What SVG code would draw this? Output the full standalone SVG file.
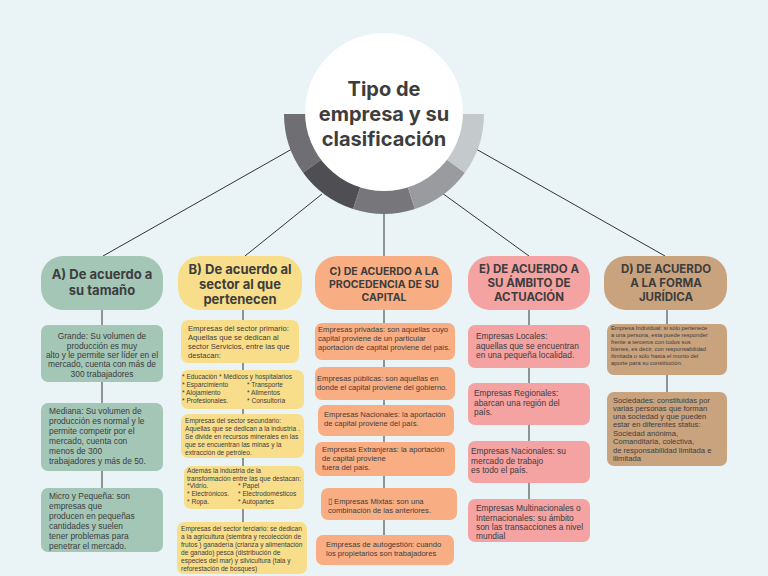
<svg xmlns="http://www.w3.org/2000/svg" width="768" height="576" viewBox="0 0 768 576">
<style>
text{font-family:"Liberation Sans",Arial,sans-serif;fill:#3d3d3d}
.h{font-family:Inter,"Liberation Sans",sans-serif;font-weight:bold;font-size:13px;text-anchor:middle}
.s{font-size:8.4px}
.xs{font-size:6.6px}
.m{font-size:7.6px}
.cn line{stroke:#333;stroke-width:1}
.g{fill:#a3c6b6}.y{fill:#f8de8a}.o{fill:#f9ad82}.p{fill:#f4a3a2}.b{fill:#c9a27e}
</style>
<rect width="768" height="576" fill="#eaf4f6"/>
<g id="connectors" class="cn">
<line x1="292" y1="149" x2="103" y2="256"/><line x1="322" y1="194" x2="245" y2="256"/>
<line x1="384" y1="214" x2="384" y2="256"/><line x1="442" y1="193" x2="529" y2="256"/>
<line x1="476" y1="149" x2="665" y2="256"/>
<line x1="102" y1="310" x2="102" y2="488"/><line x1="243" y1="310" x2="243" y2="522"/>
<line x1="384" y1="310" x2="384" y2="535"/><line x1="529" y1="310" x2="529" y2="499"/>
<line x1="667" y1="310" x2="667" y2="392"/>
</g>
<g id="center">
<path d="M284,114 A100,100 0 0 0 303.1,172.8 L322.5,158.7 A76,76 0 0 1 308,114Z" fill="#6f6e72"/>
<path d="M303.1,172.8 A100,100 0 0 0 353.1,209.1 L360.5,186.3 A76,76 0 0 1 322.5,158.7Z" fill="#4f4e53"/>
<path d="M353.1,209.1 A100,100 0 0 0 414.9,209.1 L407.5,186.3 A76,76 0 0 1 360.5,186.3Z" fill="#77767a"/>
<path d="M414.9,209.1 A100,100 0 0 0 464.9,172.8 L445.5,158.7 A76,76 0 0 1 407.5,186.3Z" fill="#9a9b9e"/>
<path d="M464.9,172.8 A100,100 0 0 0 484,114 L460,114 A76,76 0 0 1 445.5,158.7Z" fill="#c4c9cb"/>
<circle cx="384" cy="112" r="79" fill="#fff"/>
<text x="384" y="96" class="h" style="font-size:20px">Tipo de</text>
<text x="384" y="121" class="h" style="font-size:20px">empresa y su</text>
<text x="384" y="146" class="h" style="font-size:20px">clasificación</text>
</g>
<g id="A">
<rect x="41" y="256" width="122" height="54" rx="22" class="g"/>
<text class="h" x="102" y="279">A) De acuerdo a</text><text class="h" x="102" y="295">su tamaño</text>
<rect x="41" y="325" width="122" height="57" rx="7" class="g"/>
<text class="s" text-anchor="middle"><tspan x="102" y="339">Grande: Su volumen de</tspan><tspan x="102" y="349">producción es muy</tspan><tspan x="102" y="358">alto y le permite ser líder en el</tspan><tspan x="102" y="367">mercado, cuenta con más de</tspan><tspan x="102" y="377">300 trabajadores</tspan></text>
<rect x="41" y="403" width="122" height="68" rx="7" class="g"/>
<text class="s"><tspan x="49" y="414">Mediana: Su volumen de</tspan><tspan x="49" y="424">producción es normal y le</tspan><tspan x="49" y="434">permite competir por el</tspan><tspan x="49" y="444">mercado, cuenta con</tspan><tspan x="49" y="454">menos de 300</tspan><tspan x="49" y="464">trabajadores y más de 50.</tspan></text>
<rect x="41" y="488" width="122" height="64" rx="7" class="g"/>
<text class="s"><tspan x="49" y="499">Micro y Pequeña: son</tspan><tspan x="49" y="509">empresas que</tspan><tspan x="49" y="519">producen en pequeñas</tspan><tspan x="49" y="529">cantidades y suelen</tspan><tspan x="49" y="539">tener problemas para</tspan><tspan x="49" y="549">penetrar el mercado.</tspan></text>
</g>
<g id="B">
<rect x="178" y="256" width="124" height="54" rx="22" class="y"/>
<text class="h" x="240" y="274">B) De acuerdo al</text><text class="h" x="240" y="289">sector al que</text><text class="h" x="240" y="304">pertenecen</text>
<rect x="181" y="320" width="118" height="43" rx="7" class="y"/>
<text class="m"><tspan x="188" y="331">Empresas del sector primario:</tspan><tspan x="188" y="340">Aquellas que se dedican al</tspan><tspan x="188" y="349">sector Servicios, entre las que</tspan><tspan x="188" y="358">destacan:</tspan></text>
<rect x="181" y="370" width="123" height="39" rx="7" class="y"/>
<text class="xs"><tspan x="182" y="379">* Educación * Médicos y hospitalarios</tspan><tspan x="182" y="387">* Esparcimiento</tspan><tspan x="247" y="387">* Transporte</tspan><tspan x="182" y="395">* Alojamiento</tspan><tspan x="247" y="395">* Alimentos</tspan><tspan x="182" y="403">* Profesionales.</tspan><tspan x="247" y="403">* Consultoría</tspan></text>
<rect x="181" y="414" width="123" height="44" rx="7" class="y"/>
<text class="xs"><tspan x="185" y="423">Empresas del sector secundario:</tspan><tspan x="185" y="431">Aquellas que se dedican a la industria .</tspan><tspan x="185" y="439">Se divide en recursos minerales en las</tspan><tspan x="185" y="447">que se encuentran las minas y la</tspan><tspan x="185" y="455">extracción de petróleo.</tspan></text>
<rect x="184" y="466" width="120" height="43" rx="7" class="y"/>
<text class="xs"><tspan x="187" y="473">Además la industria de la</tspan><tspan x="187" y="481">transformación entre las que destacan:</tspan><tspan x="187" y="488">*Vidrio.</tspan><tspan x="238" y="488">* Papel</tspan><tspan x="187" y="496">* Electrónicos.</tspan><tspan x="238" y="496">* Electrodomésticos</tspan><tspan x="187" y="504">* Ropa.</tspan><tspan x="238" y="504">* Autopartes</tspan></text>
<rect x="177" y="522" width="130" height="52" rx="7" class="y"/>
<text class="xs"><tspan x="181" y="531">Empresas del sector terciario: se dedican</tspan><tspan x="181" y="539">a la agricultura (siembra y recolección de</tspan><tspan x="181" y="547">frutos ) ganadería (crianza y alimentación</tspan><tspan x="181" y="555">de ganado) pesca (distribución de</tspan><tspan x="181" y="563">especies del mar) y silvicultura (tala y</tspan><tspan x="181" y="571">reforestación de bosques)</tspan></text>
</g>
<g id="C">
<rect x="315" y="256" width="137" height="54" rx="22" class="o"/>
<text class="h" style="font-size:10.5px" x="384" y="275">C) DE ACUERDO A LA</text><text class="h" style="font-size:10.5px" x="384" y="288">PROCEDENCIA DE SU</text><text class="h" style="font-size:10.5px" x="384" y="301">CAPITAL</text>
<rect x="315" y="323" width="140" height="37" rx="7" class="o"/>
<text class="m"><tspan x="318" y="332">Empresas privadas: son aquellas cuyo</tspan><tspan x="318" y="341">capital proviene de un particular</tspan><tspan x="318" y="350">aportación de capital proviene del país.</tspan></text>
<rect x="315" y="367" width="140" height="33" rx="7" class="o"/>
<text class="m"><tspan x="317" y="381">Empresas públicas: son aquellas en</tspan><tspan x="317" y="390">donde el capital proviene del gobierno.</tspan></text>
<rect x="318" y="405" width="136" height="31" rx="7" class="o"/>
<text class="m"><tspan x="324" y="417">Empresas Nacionales: la aportación</tspan><tspan x="324" y="426">de capital proviene del país.</tspan></text>
<rect x="315" y="442" width="140" height="34" rx="7" class="o"/>
<text class="m"><tspan x="322" y="452">Empresas Extranjeras: la aportación</tspan><tspan x="322" y="461">de capital proviene</tspan><tspan x="322" y="470">fuera del país.</tspan></text>
<rect x="321" y="488" width="136" height="32" rx="7" class="o"/>
<text class="m"><tspan x="328" y="504">▯ Empresas Mixtas: son una</tspan><tspan x="328" y="513">combinación de las anteriores.</tspan></text>
<rect x="316" y="535" width="138" height="30" rx="7" class="o"/>
<text class="m"><tspan x="326" y="547">Empresas de autogestión: cuando</tspan><tspan x="326" y="556">los propietarios son trabajadores</tspan></text>
</g>
<g id="E">
<rect x="468" y="256" width="122" height="54" rx="22" class="p"/>
<text class="h" style="font-size:11.5px" x="529" y="273">E) DE ACUERDO A</text><text class="h" style="font-size:11.5px" x="529" y="287">SU ÁMBITO DE</text><text class="h" style="font-size:11.5px" x="529" y="301">ACTUACIÓN</text>
<rect x="468" y="325" width="122" height="43" rx="7" class="p"/>
<text class="s"><tspan x="476" y="339">Empresas Locales:</tspan><tspan x="476" y="349">aquellas que se encuentran</tspan><tspan x="476" y="358">en una pequeña localidad.</tspan></text>
<rect x="468" y="383" width="122" height="42" rx="7" class="p"/>
<text class="s"><tspan x="474" y="396">Empresas Regionales:</tspan><tspan x="474" y="406">abarcan una región del</tspan><tspan x="474" y="415">país.</tspan></text>
<rect x="468" y="441" width="122" height="42" rx="7" class="p"/>
<text class="s"><tspan x="471" y="454">Empresas Nacionales: su</tspan><tspan x="471" y="464">mercado de trabajo</tspan><tspan x="471" y="473">es todo el país.</tspan></text>
<rect x="468" y="499" width="122" height="43" rx="7" class="p"/>
<text class="s"><tspan x="476" y="511">Empresas Multinacionales o</tspan><tspan x="476" y="521">Internacionales: su ámbito</tspan><tspan x="476" y="530">son las transacciones a nivel</tspan><tspan x="476" y="539">mundial</tspan></text>
</g>
<g id="D">
<rect x="604" y="256" width="123" height="54" rx="22" class="b"/>
<text class="h" style="font-size:11.5px" x="666" y="273">D) DE ACUERDO</text><text class="h" style="font-size:11.5px" x="666" y="287">A LA FORMA</text><text class="h" style="font-size:11.5px" x="666" y="301">JURÍDICA</text>
<rect x="607" y="324" width="120" height="51" rx="7" class="b"/>
<text style="font-size:5.8px"><tspan x="611" y="330">Empresa Individual: si sólo pertenece</tspan><tspan x="611" y="337">a una persona, esta puede responder</tspan><tspan x="611" y="344">frente a terceros con todos sus</tspan><tspan x="611" y="351">bienes, es decir, con responsabilidad</tspan><tspan x="611" y="358">ilimitada o sólo hasta el monto del</tspan><tspan x="611" y="365">aporte para su constitución.</tspan></text>
<rect x="607" y="392" width="120" height="74" rx="7" class="b"/>
<text class="m"><tspan x="613" y="403">Sociedades: constituidas por</tspan><tspan x="613" y="411">varias personas que forman</tspan><tspan x="613" y="419">una sociedad y que pueden</tspan><tspan x="613" y="427">estar en diferentes status:</tspan><tspan x="613" y="436">Sociedad anónima,</tspan><tspan x="613" y="444">Comanditaria, colectiva,</tspan><tspan x="613" y="453">de responsabilidad limitada e</tspan><tspan x="613" y="461">ilimitada</tspan></text>
</g>
</svg>
